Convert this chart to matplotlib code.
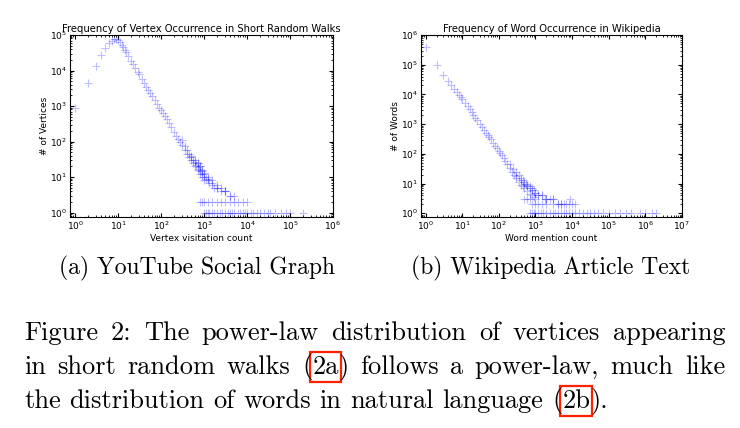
import matplotlib
matplotlib.use("Agg")
import matplotlib.pyplot as plt
from matplotlib.patches import Rectangle

# --- YouTube (vertex visitation) ---
yt_x = [1,2,3,4,5,6,7,8,9,10,11,12,13,14,15,17,20,22,25,28,30,35,40,45,50,55,60,70,80,90,100,110,120,135,150,170,200,225,250,275,300,350,400,450,500,550,600,700,800,900,1000,
        300,350,400,450,500,550,600,650,700,750,800,900,1000,1100,1200,1300,1500,1700,2000,2500,3000,4000,5000,
        500,600,700,800,900,1000,1200,1500,2000,2500,3000,4000,
        700,800,900,1000,1200,1500,2000,3000,
        800,900,1000,1200,1500,2000,2500,3000,4000,5000,6000,8000,10000,
        1000,1100,1200,1300,1500,1700,2000,2300,2600,3000,3500,4000,4500,5000,6000,7000,8000,9000,10000,12000,14000,17000,20000,25000,30000,35000,45000,60000,80000,100000,200000]
yt_y = [900,4500,13000,27000,43000,60000,70000,75000,75000,72000,62000,52000,45000,39000,33000,25000,18000,15000,11500,9000,7800,5800,4400,3500,2800,2300,1950,1450,1120,900,750,620,520,420,340,260,185,145,115,95,80,58,45,36,30,25,21,16,12,10,8,
        110,75,58,45,36,30,26,22,19,17,15,12,10,9,8,7,6,5,5,4,4,3,3,
        40,30,25,20,16,13,10,8,6,5,4,3,
        25,20,15,12,9,7,5,4,
        2,2,2,2,2,2,2,2,2,2,2,2,2,
        1,1,1,1,1,1,1,1,1,1,1,1,1,1,1,1,1,1,1,1,1,1,1,1,1,1,1,1,1,1,1]

# --- Wikipedia (word mention) ---
wk_x = [1,2,3,4,5,6,7,8,9,10,12,14,16,18,20,23,26,30,35,40,45,50,55,60,70,80,90,100,110,120,135,150,170,200,230,260,300,350,400,450,500,600,700,800,900,1000,
        200,250,300,350,400,450,500,550,600,700,800,900,1000,1200,1500,1800,2000,2500,3000,4000,5000,6000,8000,10000,
        300,400,500,600,700,800,1000,1200,1500,2000,3000,
        500,600,700,800,1000,1200,1500,2000,3000,4000,5000,7000,9000,12000,
        700,800,900,1000,1200,1400,1600,2000,2500,3000,3500,4000,5000,6000,7000,8000,10000,12000,15000,20000,25000,30000,40000,50000,70000,100000,150000,200000,300000,400000,700000,1000000,1500000,2000000]
wk_y = [400000,100000,45000,28000,20000,15000,12000,9800,8200,7000,5200,4000,3200,2600,2100,1650,1350,1050,800,620,500,420,360,310,240,190,155,125,105,90,72,58,46,33,25,20,15,11,9,8,7,5.5,4.5,4,3.5,3,
        45,32,25,20,16,13,11,10,9,8,7,6,5,4,4,3,3,3,3,2,2,2,2,2,
        18,13,10,8,7,6,5,4,4,3,3,
        3,3,3,2,2,2,2,2,2,2,2,2,3,2,
        1,1,1,1,1,1,1,1,1,1,1,1,1,1,1,1,1,1,1,1,1,1,1,1,1,1,1,1,1,1,1,1,1,1]

caption_lines = ['Figure 2: The power-law distribution of vertices appearing',
                 'in short random walks (|2a|) follows a power-law, much like',
                 'the distribution of words in natural language (|2b|).']

W, H = 740, 428
fig = plt.figure(figsize=(W/100, H/100), dpi=100)

def panel(rect, x, y, title, xlabel, ylabel, xmax, ymax):
    ax = fig.add_axes([rect[0]/W, 1-rect[3]/H, (rect[2]-rect[0])/W, (rect[3]-rect[1])/H])
    ax.scatter(x, y, marker='+', s=30, c='#0000ff', alpha=0.25, linewidths=0.8)
    ax.set_xscale('log'); ax.set_yscale('log')
    ax.set_xlim(0.75, xmax); ax.set_ylim(0.75, ymax)
    ax.set_title(title, fontsize=7.2, pad=2)
    ax.set_xlabel(xlabel, fontsize=6.5, labelpad=1)
    ax.set_ylabel(ylabel, fontsize=6.5, labelpad=1)
    ax.tick_params(which='both', direction='in', top=True, right=True, labelsize=6.5, pad=2)
    ax.tick_params(which='major', length=3)
    ax.tick_params(which='minor', length=1.5)
    return ax

panel((70, 35, 333, 217), yt_x, yt_y, 'Frequency of Vertex Occurrence in Short Random Walks',
      'Vertex visitation count', '# of Vertices', 1e6, 1e5)
panel((421, 35, 682, 217), wk_x, wk_y, 'Frequency of Word Occurrence in Wikipedia',
      'Word mention count', '# of Words', 1e7, 1e6)

serif = 'cmr10'
fig.text(197/W, 1-268/H, '(a) YouTube Social Graph', ha='center', va='center', fontsize=17, family=serif)
fig.text(551/W, 1-268/H, '(b) Wikipedia Article Text', ha='center', va='center', fontsize=17, family=serif)

renderer = fig.canvas.get_renderer()
FS = 19
left, right = 24, 725
def width_of(s):
    t = fig.text(0, 0, s, fontsize=FS, family=serif)
    w = t.get_window_extent(renderer).width
    t.remove()
    return w

for i, line in enumerate(caption_lines):
    ypix = 333 + 34*i
    words = line.split(' ')
    segs = [w.split('|') for w in words]
    widths = [[width_of(s) if s else 0 for s in sg] for sg in segs]
    total = sum(sum(w) for w in widths)
    justify = i < len(caption_lines) - 1
    gap = (right - left - total)/(len(words)-1) if justify else width_of('a b') - width_of('ab')
    x = left
    for sg, ws in zip(segs, widths):
        for k, (s, w) in enumerate(zip(sg, ws)):
            if s:
                fig.text(x/W, 1-ypix/H, s, ha='left', va='center', fontsize=FS, family=serif)
            if len(sg) == 3 and k == 1:
                fig.add_artist(Rectangle(((x-2)/W, 1-(ypix+15)/H), (w+4)/W, 30/H,
                                         transform=fig.transFigure, fill=False,
                                         edgecolor='#ff2200', linewidth=1.6))
            x += w
        x += gap

fig.savefig('out.png', dpi=100)
